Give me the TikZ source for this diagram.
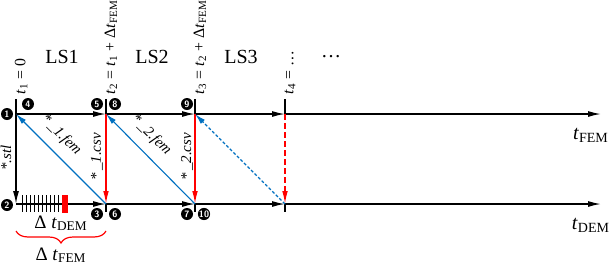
\documentclass[tikz,border=0pt]{standalone}
\usepackage{fontspec}
\setmainfont{Liberation Serif}
\usepackage{tikz}
\usetikzlibrary{arrows.meta,decorations.pathreplacing}
\definecolor{femblue}{HTML}{0070C0}
\definecolor{csvred}{HTML}{FF0000}
\newcommand{\tv}[1]{\textit{t}\textsubscript{#1}}

\begin{document}
\begin{tikzpicture}[x=0.5pt, y=-0.5pt,
  ax/.style={line width=0.7pt, -{Latex[length=6.5pt,width=3pt]}},
  tk/.style={line width=0.6pt},
  up/.style={line width=0.55pt, femblue, -{Latex[length=5.5pt,width=2.8pt]}},
  down/.style={line width=0.7pt, csvred, -{Latex[length=6.5pt,width=2.8pt]}},
  num/.style={circle, fill=black, text=white, inner sep=0pt, minimum size=6pt, font=\fontsize{4.6}{4.6}\sffamily\bfseries},
  rot/.style={rotate=90, anchor=west, inner sep=0pt, font=\fontsize{7.9}{9}\selectfont},
  file/.style={inner sep=0pt, font=\fontsize{7.5}{8}\selectfont\itshape},
  ls/.style={font=\fontsize{10}{12}\selectfont}]
\useasboundingbox (0,0) rectangle (610,263);
% time points
\coordinate (fem1) at (16,114);  \coordinate (dem1) at (16,204);
\coordinate (fem2) at (106,114); \coordinate (dem2) at (106,204);
\coordinate (fem3) at (195,114); \coordinate (dem3) at (195,204);
\coordinate (fem4) at (285,114); \coordinate (dem4) at (285,204);
\coordinate (femend) at (601,114); \coordinate (demend) at (601,204);
\coordinate (t1) at (16,99);  \coordinate (t2) at (106,99);
\coordinate (t3) at (195,99); \coordinate (t4) at (285,99);
\coordinate (b2) at (106,212); \coordinate (b3) at (195,212); \coordinate (b4) at (285,212);
% ticks
\foreach \i in {1,...,4} \draw[tk] (t\i) -- (fem\i);
\foreach \i in {2,3,4} \draw[tk] (dem\i) -- (b\i);
% time axes
\foreach \a/\b in {fem1/fem2,fem2/fem3,fem3/fem4,fem4/femend,dem1/dem2,dem2/dem3,dem3/dem4,dem4/demend}
  \draw[ax] (\a) -- (\b);
\draw[ax] (fem1) -- (dem1);
% DEM steps
\foreach \x in {22,26,...,58} \draw[line width=0.4pt] (\x,195) -- (\x,212);
\fill[csvred] (62,195) rectangle (68,213);
% data exchange
\draw[down] (fem2) -- (dem2);
\draw[down] (fem3) -- (dem3);
\draw[down, dash pattern=on 3pt off 1.5pt] (fem4) -- (dem4);
\draw[up] (dem2) -- (fem1);
\draw[up] (dem3) -- (fem2);
\draw[up, dash pattern=on 1.5pt off 1pt] (dem4) -- (fem3);
% file labels
\node[file, rotate=90]  (stl)  at (6,158)   {*.stl};
\node[file, rotate=-45] (fem1lbl) at (61,135)  {*\,\_1.fem};
\node[file, rotate=-45] (fem2lbl) at (151,135) {*\,\_2.fem};
\node[file, rotate=90]  (csv1lbl) at (97,157)  {*\,\_1.csv};
\node[file, rotate=90]  (csv2lbl) at (187,157) {*\,\_2.csv};
% time labels
\node[rot] (lt1) at (21,95)  {\tv{1} = 0};
\node[rot] (lt2) at (111,95) {\tv{2} = \tv{1} + Δ\tv{FEM}};
\node[rot] (lt3) at (200,95) {\tv{3} = \tv{2} + Δ\tv{FEM}};
\node[rot] (lt4) at (290,95) {\tv{4} = …};
\node[ls] (ls1) at (62,57)  {LS1};
\node[ls] (ls2) at (152,57) {LS2};
\node[ls] (ls3) at (241,57) {LS3};
\node[ls] (lsn) at (331,57) {…};
\node[ls] (tfem) at (591,135) {\tv{FEM}};
\node[ls] (tdem) at (591,225) {\tv{DEM}};
% step sizes
\coordinate (br1) at (16,231); \coordinate (br2) at (106,231);
\draw[csvred, line width=0.6pt, decorate, decoration={brace, amplitude=6pt, mirror}] (br1) -- (br2);
\node[font=\fontsize{9.5}{11}\selectfont] (ddem) at (61,223) {Δ \tv{DEM}};
\node[font=\fontsize{9.5}{11}\selectfont] (dfem) at (61,255) {Δ \tv{FEM}};
% steps
\node[num] (n1) at (7,114)   {1};
\node[num] (n2) at (7,205)   {2};
\node[num] (n3) at (97,214)  {3};
\node[num] (n4) at (28,104)  {4};
\node[num] (n5) at (97,104)  {5};
\node[num] (n6) at (115,214) {6};
\node[num] (n7) at (187,214) {7};
\node[num] (n8) at (115,104) {8};
\node[num] (n9) at (187,104) {9};
\node[num] (n10) at (204,214) {10};
\end{tikzpicture}
\end{document}
